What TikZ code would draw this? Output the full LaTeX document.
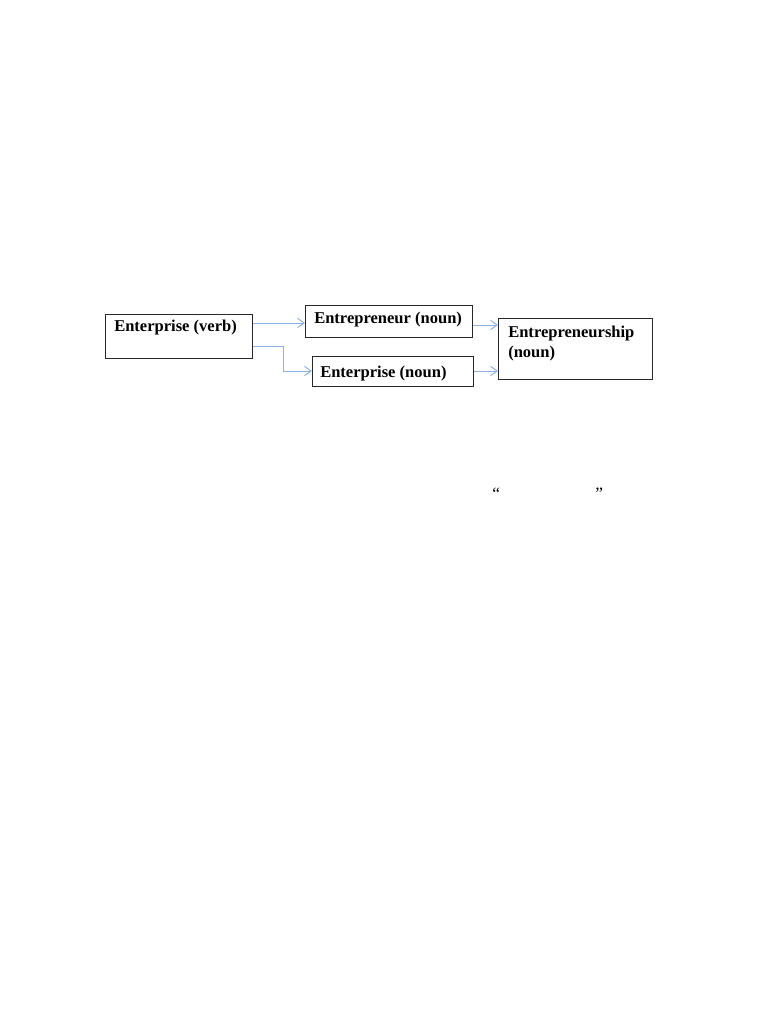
\documentclass[tikz,border=0pt]{standalone}
\usepackage{fontspec}
\setmainfont{Liberation Serif}
\usetikzlibrary{arrows.meta}
\definecolor{arrowblue}{RGB}{140,178,228}
\definecolor{boxline}{RGB}{40,40,40}
\begin{document}
\begin{tikzpicture}[x=0.75pt,y=-0.75pt,
  wbox/.style={draw=boxline,line width=0.9pt,inner sep=0pt},
  lbl/.style={anchor=base west,inner sep=0pt,font=\fontsize{12.4}{14}\selectfont\bfseries},
  quo/.style={anchor=base west,inner sep=0pt,font=\fontsize{13}{14}\selectfont},
  conn/.style={draw=arrowblue,line width=0.75pt,-{Straight Barb[length=5pt,width=7pt]}}]
\useasboundingbox (0,0) rectangle (768,1024);
% boxes
\node[wbox,minimum width=147*0.75pt,minimum height=44*0.75pt,anchor=north west] (verb) at (105,314) {};
\node[wbox,minimum width=167*0.75pt,minimum height=32*0.75pt,anchor=north west] (eur) at (305,305) {};
\node[wbox,minimum width=161*0.75pt,minimum height=30*0.75pt,anchor=north west] (enoun) at (312,356) {};
\node[wbox,minimum width=154*0.75pt,minimum height=61*0.75pt,anchor=north west] (ship) at (498,318) {};
% labels
\node[lbl] (verbt) at (114,331) {Enterprise (verb)};
\node[lbl] (eurt) at (314,323) {Entrepreneur (noun)};
\node[lbl] (enount) at (320,377) {Enterprise (noun)};
\node[lbl] (shipt) at (508,337) {Entrepreneurship};
\node[lbl] (shipt2) at (508,357) {(noun)};
% quotes
\node[quo] (q1) at (492,499) {“};
\node[quo] (q2) at (595,499) {”};
% connectors
\coordinate (bend1) at (283,346);
\coordinate (bend2) at (283,371);
\draw[conn] (verb.east |- 0,323) -- (eur.west |- 0,323);
\draw[conn] (verb.east |- bend1) -- (bend1) -- (bend2) -- (enoun.west |- bend2);
\draw[conn] (eur.east |- 0,325) -- (ship.west |- 0,325);
\draw[conn] (enoun.east |- bend2) -- (ship.west |- bend2);
\end{tikzpicture}
\end{document}
